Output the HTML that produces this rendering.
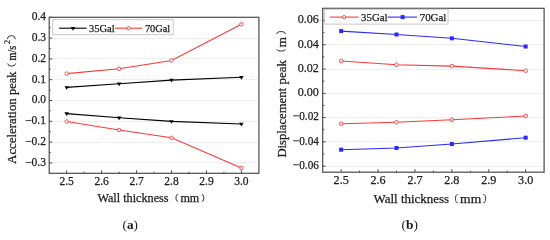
<!DOCTYPE html>
<html><head><meta charset="utf-8"><style>
html,body{margin:0;padding:0;background:#fff;width:550px;height:237px;overflow:hidden}
svg{display:block;will-change:transform}
text{font-family:"Liberation Serif",serif;fill:#1c1c1c;stroke:#1c1c1c;stroke-width:0.25px}
</style></head><body>
<svg width="550" height="237" viewBox="0 0 550 237">
<line x1="50.20" y1="38.50" x2="257.90" y2="38.50" stroke="#dedede" stroke-width="1" stroke-dasharray="1,1"/>
<line x1="50.20" y1="58.50" x2="257.90" y2="58.50" stroke="#dedede" stroke-width="1" stroke-dasharray="1,1"/>
<line x1="50.20" y1="79.50" x2="257.90" y2="79.50" stroke="#dedede" stroke-width="1" stroke-dasharray="1,1"/>
<line x1="50.20" y1="100.50" x2="257.90" y2="100.50" stroke="#dedede" stroke-width="1" stroke-dasharray="1,1"/>
<line x1="50.20" y1="121.50" x2="257.90" y2="121.50" stroke="#dedede" stroke-width="1" stroke-dasharray="1,1"/>
<line x1="50.20" y1="142.50" x2="257.90" y2="142.50" stroke="#dedede" stroke-width="1" stroke-dasharray="1,1"/>
<line x1="50.20" y1="162.50" x2="257.90" y2="162.50" stroke="#dedede" stroke-width="1" stroke-dasharray="1,1"/>
<line x1="66.67" y1="173.30" x2="66.67" y2="170.30" stroke="#4c4c4c" stroke-width="1"/>
<line x1="101.62" y1="173.30" x2="101.62" y2="170.30" stroke="#4c4c4c" stroke-width="1"/>
<line x1="136.58" y1="173.30" x2="136.58" y2="170.30" stroke="#4c4c4c" stroke-width="1"/>
<line x1="171.52" y1="173.30" x2="171.52" y2="170.30" stroke="#4c4c4c" stroke-width="1"/>
<line x1="206.47" y1="173.30" x2="206.47" y2="170.30" stroke="#4c4c4c" stroke-width="1"/>
<line x1="241.43" y1="173.30" x2="241.43" y2="170.30" stroke="#4c4c4c" stroke-width="1"/>
<line x1="84.15" y1="173.30" x2="84.15" y2="171.70" stroke="#4c4c4c" stroke-width="1"/>
<line x1="119.10" y1="173.30" x2="119.10" y2="171.70" stroke="#4c4c4c" stroke-width="1"/>
<line x1="154.05" y1="173.30" x2="154.05" y2="171.70" stroke="#4c4c4c" stroke-width="1"/>
<line x1="189.00" y1="173.30" x2="189.00" y2="171.70" stroke="#4c4c4c" stroke-width="1"/>
<line x1="223.95" y1="173.30" x2="223.95" y2="171.70" stroke="#4c4c4c" stroke-width="1"/>
<line x1="49.20" y1="17.30" x2="52.20" y2="17.30" stroke="#4c4c4c" stroke-width="1"/>
<line x1="49.20" y1="38.10" x2="52.20" y2="38.10" stroke="#4c4c4c" stroke-width="1"/>
<line x1="49.20" y1="58.90" x2="52.20" y2="58.90" stroke="#4c4c4c" stroke-width="1"/>
<line x1="49.20" y1="79.70" x2="52.20" y2="79.70" stroke="#4c4c4c" stroke-width="1"/>
<line x1="49.20" y1="100.50" x2="52.20" y2="100.50" stroke="#4c4c4c" stroke-width="1"/>
<line x1="49.20" y1="121.30" x2="52.20" y2="121.30" stroke="#4c4c4c" stroke-width="1"/>
<line x1="49.20" y1="142.10" x2="52.20" y2="142.10" stroke="#4c4c4c" stroke-width="1"/>
<line x1="49.20" y1="162.90" x2="52.20" y2="162.90" stroke="#4c4c4c" stroke-width="1"/>
<line x1="49.20" y1="27.70" x2="50.80" y2="27.70" stroke="#4c4c4c" stroke-width="1"/>
<line x1="49.20" y1="48.50" x2="50.80" y2="48.50" stroke="#4c4c4c" stroke-width="1"/>
<line x1="49.20" y1="69.30" x2="50.80" y2="69.30" stroke="#4c4c4c" stroke-width="1"/>
<line x1="49.20" y1="90.10" x2="50.80" y2="90.10" stroke="#4c4c4c" stroke-width="1"/>
<line x1="49.20" y1="110.90" x2="50.80" y2="110.90" stroke="#4c4c4c" stroke-width="1"/>
<line x1="49.20" y1="131.70" x2="50.80" y2="131.70" stroke="#4c4c4c" stroke-width="1"/>
<line x1="49.20" y1="152.50" x2="50.80" y2="152.50" stroke="#4c4c4c" stroke-width="1"/>
<rect x="49.20" y="17.30" width="209.70" height="156.00" fill="none" stroke="#4c4c4c" stroke-width="1.2"/>
<text x="46.00" y="20.20" font-size="11.5" text-anchor="end">0.4</text>
<text x="46.00" y="41.00" font-size="11.5" text-anchor="end">0.3</text>
<text x="46.00" y="61.80" font-size="11.5" text-anchor="end">0.2</text>
<text x="46.00" y="82.60" font-size="11.5" text-anchor="end">0.1</text>
<text x="46.00" y="103.40" font-size="11.5" text-anchor="end">0.0</text>
<text x="46.00" y="124.20" font-size="11.5" text-anchor="end">&#8722;0.1</text>
<text x="46.00" y="145.00" font-size="11.5" text-anchor="end">&#8722;0.2</text>
<text x="46.00" y="165.80" font-size="11.5" text-anchor="end">&#8722;0.3</text>
<text x="66.67" y="184.80" font-size="11.5" text-anchor="middle">2.5</text>
<text x="101.62" y="184.80" font-size="11.5" text-anchor="middle">2.6</text>
<text x="136.58" y="184.80" font-size="11.5" text-anchor="middle">2.7</text>
<text x="171.52" y="184.80" font-size="11.5" text-anchor="middle">2.8</text>
<text x="206.47" y="184.80" font-size="11.5" text-anchor="middle">2.9</text>
<text x="241.43" y="184.80" font-size="11.5" text-anchor="middle">3.0</text>
<line x1="323.70" y1="20.50" x2="543.10" y2="20.50" stroke="#dedede" stroke-width="1" stroke-dasharray="1,1"/>
<line x1="323.70" y1="44.50" x2="543.10" y2="44.50" stroke="#dedede" stroke-width="1" stroke-dasharray="1,1"/>
<line x1="323.70" y1="69.50" x2="543.10" y2="69.50" stroke="#dedede" stroke-width="1" stroke-dasharray="1,1"/>
<line x1="323.70" y1="93.50" x2="543.10" y2="93.50" stroke="#dedede" stroke-width="1" stroke-dasharray="1,1"/>
<line x1="323.70" y1="117.50" x2="543.10" y2="117.50" stroke="#dedede" stroke-width="1" stroke-dasharray="1,1"/>
<line x1="323.70" y1="141.50" x2="543.10" y2="141.50" stroke="#dedede" stroke-width="1" stroke-dasharray="1,1"/>
<line x1="323.70" y1="166.50" x2="543.10" y2="166.50" stroke="#dedede" stroke-width="1" stroke-dasharray="1,1"/>
<line x1="341.15" y1="172.20" x2="341.15" y2="169.20" stroke="#4c4c4c" stroke-width="1"/>
<line x1="378.05" y1="172.20" x2="378.05" y2="169.20" stroke="#4c4c4c" stroke-width="1"/>
<line x1="414.95" y1="172.20" x2="414.95" y2="169.20" stroke="#4c4c4c" stroke-width="1"/>
<line x1="451.85" y1="172.20" x2="451.85" y2="169.20" stroke="#4c4c4c" stroke-width="1"/>
<line x1="488.75" y1="172.20" x2="488.75" y2="169.20" stroke="#4c4c4c" stroke-width="1"/>
<line x1="525.65" y1="172.20" x2="525.65" y2="169.20" stroke="#4c4c4c" stroke-width="1"/>
<line x1="359.60" y1="172.20" x2="359.60" y2="170.60" stroke="#4c4c4c" stroke-width="1"/>
<line x1="396.50" y1="172.20" x2="396.50" y2="170.60" stroke="#4c4c4c" stroke-width="1"/>
<line x1="433.40" y1="172.20" x2="433.40" y2="170.60" stroke="#4c4c4c" stroke-width="1"/>
<line x1="470.30" y1="172.20" x2="470.30" y2="170.60" stroke="#4c4c4c" stroke-width="1"/>
<line x1="507.20" y1="172.20" x2="507.20" y2="170.60" stroke="#4c4c4c" stroke-width="1"/>
<line x1="322.70" y1="20.44" x2="325.70" y2="20.44" stroke="#4c4c4c" stroke-width="1"/>
<line x1="322.70" y1="44.72" x2="325.70" y2="44.72" stroke="#4c4c4c" stroke-width="1"/>
<line x1="322.70" y1="69.00" x2="325.70" y2="69.00" stroke="#4c4c4c" stroke-width="1"/>
<line x1="322.70" y1="93.29" x2="325.70" y2="93.29" stroke="#4c4c4c" stroke-width="1"/>
<line x1="322.70" y1="117.57" x2="325.70" y2="117.57" stroke="#4c4c4c" stroke-width="1"/>
<line x1="322.70" y1="141.85" x2="325.70" y2="141.85" stroke="#4c4c4c" stroke-width="1"/>
<line x1="322.70" y1="166.13" x2="325.70" y2="166.13" stroke="#4c4c4c" stroke-width="1"/>
<line x1="322.70" y1="32.58" x2="324.30" y2="32.58" stroke="#4c4c4c" stroke-width="1"/>
<line x1="322.70" y1="56.86" x2="324.30" y2="56.86" stroke="#4c4c4c" stroke-width="1"/>
<line x1="322.70" y1="81.14" x2="324.30" y2="81.14" stroke="#4c4c4c" stroke-width="1"/>
<line x1="322.70" y1="105.43" x2="324.30" y2="105.43" stroke="#4c4c4c" stroke-width="1"/>
<line x1="322.70" y1="129.71" x2="324.30" y2="129.71" stroke="#4c4c4c" stroke-width="1"/>
<line x1="322.70" y1="153.99" x2="324.30" y2="153.99" stroke="#4c4c4c" stroke-width="1"/>
<rect x="322.70" y="8.30" width="221.40" height="163.90" fill="none" stroke="#4c4c4c" stroke-width="1.2"/>
<text x="318.90" y="23.34" font-size="12.1" text-anchor="end">0.06</text>
<text x="318.90" y="47.62" font-size="12.1" text-anchor="end">0.04</text>
<text x="318.90" y="71.90" font-size="12.1" text-anchor="end">0.02</text>
<text x="318.90" y="96.19" font-size="12.1" text-anchor="end">0.00</text>
<text x="318.90" y="120.47" font-size="12.1" text-anchor="end" textLength="26.0" lengthAdjust="spacingAndGlyphs">&#8722;0.02</text>
<text x="318.90" y="144.75" font-size="12.1" text-anchor="end" textLength="26.0" lengthAdjust="spacingAndGlyphs">&#8722;0.04</text>
<text x="318.90" y="169.03" font-size="12.1" text-anchor="end" textLength="26.0" lengthAdjust="spacingAndGlyphs">&#8722;0.06</text>
<text x="341.15" y="183.90" font-size="12.1" text-anchor="middle">2.5</text>
<text x="378.05" y="183.90" font-size="12.1" text-anchor="middle">2.6</text>
<text x="414.95" y="183.90" font-size="12.1" text-anchor="middle">2.7</text>
<text x="451.85" y="183.90" font-size="12.1" text-anchor="middle">2.8</text>
<text x="488.75" y="183.90" font-size="12.1" text-anchor="middle">2.9</text>
<text x="525.65" y="183.90" font-size="12.1" text-anchor="middle">3.0</text>
<polyline points="66.67,87.40 119.10,83.70 171.52,80.10 241.43,77.30" fill="none" stroke="#000000" stroke-width="1.1"/>
<polyline points="66.67,113.60 119.10,117.70 171.52,121.40 241.43,124.00" fill="none" stroke="#000000" stroke-width="1.1"/>
<polyline points="66.67,73.60 119.10,68.80 171.52,60.50 241.43,24.30" fill="none" stroke="#f83a3a" stroke-width="1.1"/>
<polyline points="66.67,121.50 119.10,130.00 171.52,137.80 241.43,168.00" fill="none" stroke="#f83a3a" stroke-width="1.1"/>
<polygon points="64.42,86.17 68.92,86.17 66.67,89.87" fill="#000000"/>
<polygon points="116.85,82.47 121.35,82.47 119.10,86.17" fill="#000000"/>
<polygon points="169.27,78.87 173.77,78.87 171.52,82.57" fill="#000000"/>
<polygon points="239.18,76.07 243.68,76.07 241.43,79.77" fill="#000000"/>
<polygon points="64.42,112.37 68.92,112.37 66.67,116.07" fill="#000000"/>
<polygon points="116.85,116.47 121.35,116.47 119.10,120.17" fill="#000000"/>
<polygon points="169.27,120.17 173.77,120.17 171.52,123.87" fill="#000000"/>
<polygon points="239.18,122.77 243.68,122.77 241.43,126.47" fill="#000000"/>
<circle cx="66.67" cy="73.60" r="1.75" fill="#fff" stroke="#f83a3a" stroke-width="0.9"/>
<circle cx="119.10" cy="68.80" r="1.75" fill="#fff" stroke="#f83a3a" stroke-width="0.9"/>
<circle cx="171.52" cy="60.50" r="1.75" fill="#fff" stroke="#f83a3a" stroke-width="0.9"/>
<circle cx="241.43" cy="24.30" r="1.75" fill="#fff" stroke="#f83a3a" stroke-width="0.9"/>
<circle cx="66.67" cy="121.50" r="1.75" fill="#fff" stroke="#f83a3a" stroke-width="0.9"/>
<circle cx="119.10" cy="130.00" r="1.75" fill="#fff" stroke="#f83a3a" stroke-width="0.9"/>
<circle cx="171.52" cy="137.80" r="1.75" fill="#fff" stroke="#f83a3a" stroke-width="0.9"/>
<circle cx="241.43" cy="168.00" r="1.75" fill="#fff" stroke="#f83a3a" stroke-width="0.9"/>
<polyline points="341.15,61.00 396.50,64.70 451.85,66.10 525.65,70.70" fill="none" stroke="#f83a3a" stroke-width="1.1"/>
<polyline points="341.15,123.70 396.50,122.20 451.85,119.80 525.65,116.00" fill="none" stroke="#f83a3a" stroke-width="1.1"/>
<polyline points="341.15,31.10 396.50,34.50 451.85,38.30 525.65,46.50" fill="none" stroke="#2a2af8" stroke-width="1.1"/>
<polyline points="341.15,149.70 396.50,148.00 451.85,144.00 525.65,137.70" fill="none" stroke="#2a2af8" stroke-width="1.1"/>
<circle cx="341.15" cy="61.00" r="1.8" fill="#fff" stroke="#f83a3a" stroke-width="0.9"/>
<circle cx="396.50" cy="64.70" r="1.8" fill="#fff" stroke="#f83a3a" stroke-width="0.9"/>
<circle cx="451.85" cy="66.10" r="1.8" fill="#fff" stroke="#f83a3a" stroke-width="0.9"/>
<circle cx="525.65" cy="70.70" r="1.8" fill="#fff" stroke="#f83a3a" stroke-width="0.9"/>
<circle cx="341.15" cy="123.70" r="1.8" fill="#fff" stroke="#f83a3a" stroke-width="0.9"/>
<circle cx="396.50" cy="122.20" r="1.8" fill="#fff" stroke="#f83a3a" stroke-width="0.9"/>
<circle cx="451.85" cy="119.80" r="1.8" fill="#fff" stroke="#f83a3a" stroke-width="0.9"/>
<circle cx="525.65" cy="116.00" r="1.8" fill="#fff" stroke="#f83a3a" stroke-width="0.9"/>
<rect x="339.15" y="29.10" width="4.0" height="4.0" fill="#2a2af8"/>
<rect x="394.50" y="32.50" width="4.0" height="4.0" fill="#2a2af8"/>
<rect x="449.85" y="36.30" width="4.0" height="4.0" fill="#2a2af8"/>
<rect x="523.65" y="44.50" width="4.0" height="4.0" fill="#2a2af8"/>
<rect x="339.15" y="147.70" width="4.0" height="4.0" fill="#2a2af8"/>
<rect x="394.50" y="146.00" width="4.0" height="4.0" fill="#2a2af8"/>
<rect x="449.85" y="142.00" width="4.0" height="4.0" fill="#2a2af8"/>
<rect x="523.65" y="135.70" width="4.0" height="4.0" fill="#2a2af8"/>
<rect x="52.7" y="19.7" width="120.5" height="15" fill="#fff" stroke="#c8c8c8" stroke-width="1"/>
<polyline points="59.10,28.20 86.50,28.20" fill="none" stroke="#000000" stroke-width="1.1"/>
<polygon points="70.75,26.97 75.25,26.97 73.00,30.67" fill="#000000"/>
<text x="88.9" y="32.3" font-size="10.8" textLength="25.8" lengthAdjust="spacingAndGlyphs">35Gal</text>
<polyline points="114.90,28.20 142.10,28.20" fill="none" stroke="#f83a3a" stroke-width="1.1"/>
<circle cx="128.50" cy="28.20" r="1.6" fill="#fff" stroke="#f83a3a" stroke-width="0.9"/>
<text x="144.9" y="32.3" font-size="10.8" textLength="25.3" lengthAdjust="spacingAndGlyphs">70Gal</text>
<rect x="324.6" y="9.3" width="123.4" height="14.8" fill="#fff" stroke="#c8c8c8" stroke-width="1"/>
<polyline points="329.70,17.10 358.70,17.10" fill="none" stroke="#f83a3a" stroke-width="1.1"/>
<circle cx="344.10" cy="17.10" r="1.6" fill="#fff" stroke="#f83a3a" stroke-width="0.9"/>
<text x="361" y="21.2" font-size="11.4" textLength="26.6" lengthAdjust="spacingAndGlyphs">35Gal</text>
<polyline points="387.60,17.10 416.90,17.10" fill="none" stroke="#2a2af8" stroke-width="1.1"/>
<rect x="400.60" y="15.10" width="4.0" height="4.0" fill="#2a2af8"/>
<text x="419.7" y="21.2" font-size="11.4" textLength="26.7" lengthAdjust="spacingAndGlyphs">70Gal</text>
<text x="97.4" y="201.6" font-size="12.4" textLength="71.2" lengthAdjust="spacingAndGlyphs">Wall thickness</text>
<path d="M178.00,194.40 A2.10,3.50 0 0 0 178.00,201.40" fill="none" stroke="#333333" stroke-width="1"/>
<text x="180.4" y="201.6" font-size="12.4" textLength="18.9" lengthAdjust="spacingAndGlyphs">mm</text>
<path d="M201.80,194.40 A2.10,3.50 0 0 1 201.80,201.40" fill="none" stroke="#333333" stroke-width="1"/>
<text x="373.6" y="203.4" font-size="13" textLength="75.4" lengthAdjust="spacingAndGlyphs">Wall thickness</text>
<path d="M457.80,194.50 A2.30,4.15 0 0 0 457.80,202.80" fill="none" stroke="#333333" stroke-width="1"/>
<text x="460.1" y="203.4" font-size="13" textLength="21.1" lengthAdjust="spacingAndGlyphs">mm</text>
<path d="M483.30,194.50 A2.30,4.15 0 0 1 483.30,202.80" fill="none" stroke="#333333" stroke-width="1"/>
<text x="122.6" y="229.2" font-size="13.2" style="stroke-width:0">(<tspan font-weight="bold" style="stroke-width:0.05px">a</tspan>)</text>
<text x="401.5" y="228.8" font-size="13.4" style="stroke-width:0">(<tspan font-weight="bold" style="stroke-width:0.05px">b</tspan>)</text>
<g transform="translate(16,163.9) rotate(-90)"><text x="0" y="0" font-size="12.7" textLength="65.7" lengthAdjust="spacingAndGlyphs">Acceleration</text><text x="68.9" y="0" font-size="12.7" textLength="23.4" lengthAdjust="spacingAndGlyphs">peak</text><text x="103.4" y="0" font-size="12.7" textLength="14.8" lengthAdjust="spacingAndGlyphs">m/s</text><text x="119.9" y="-5.9" font-size="8.3" style="stroke-width:0.15px">2</text></g>
<path d="M7.70,63.50 A3.90,2.60 0 0 0 15.50,63.50" fill="none" stroke="#333333" stroke-width="1"/>
<path d="M7.40,39.20 A3.95,3.60 0 0 1 15.30,39.20" fill="none" stroke="#333333" stroke-width="1"/>
<g transform="translate(285.8,157.6) rotate(-90)"><text x="0" y="0" font-size="13.3" textLength="69.6" lengthAdjust="spacingAndGlyphs">Displacement</text><text x="73.2" y="0" font-size="13.3" textLength="24.3" lengthAdjust="spacingAndGlyphs">peak</text><text x="110.4" y="0" font-size="13.3" textLength="10.2" lengthAdjust="spacingAndGlyphs">m</text></g>
<path d="M276.80,49.30 A4.25,1.80 0 0 0 285.30,49.30" fill="none" stroke="#333333" stroke-width="1"/>
<path d="M276.80,34.10 A4.25,2.50 0 0 1 285.30,34.10" fill="none" stroke="#333333" stroke-width="1"/>
</svg>
</body></html>
